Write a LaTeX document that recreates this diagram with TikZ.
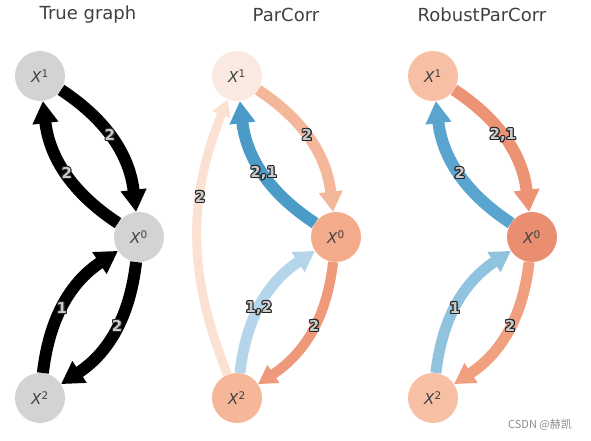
\documentclass[tikz,border=0pt]{standalone}
\usepackage{fontspec}
\setmainfont{DejaVu Sans}
\newfontfamily\cjk{Noto Sans CJK SC}
\usepackage{contour}
\contourlength{1.1pt}
\contournumber{12}
\usetikzlibrary{arrows.meta}

\definecolor{txtgray}{HTML}{404040}
\definecolor{lblfill}{HTML}{CACACA}
\definecolor{nodegray}{HTML}{D3D3D3}
% ParCorr colours
\definecolor{pcone}{HTML}{F9E9E0}
\definecolor{pczero}{HTML}{F4AB8B}
\definecolor{pctwo}{HTML}{F6B698}
% RobustParCorr colours
\definecolor{rpcside}{HTML}{F7C0A4}
\definecolor{rpczero}{HTML}{E98E70}
% edge colours
\definecolor{salmonA}{HTML}{F5B799}
\definecolor{salmonB}{HTML}{EE9A7A}
\definecolor{salmonC}{HTML}{EC9275}
\definecolor{salmonD}{HTML}{F09F7F}
\definecolor{peach}{HTML}{FBE1D2}
\definecolor{blueA}{HTML}{4B9BC9}
\definecolor{blueB}{HTML}{B5D6EA}
\definecolor{blueC}{HTML}{5AA5D0}
\definecolor{blueD}{HTML}{90C4DE}

\newcommand{\elab}[1]{\contour{black!85}{\textcolor{lblfill}{#1}}}
\newcommand{\var}[1]{\textit{X}\textsuperscript{#1}}

\begin{document}
\begin{tikzpicture}[x=1pt, y=1pt,
    var/.style={circle, minimum size=50pt, inner sep=0pt, text=txtgray,
      font=\fontsize{15}{15}\selectfont},
    edge/.style={-{Triangle[length=0pt 1.85, width=0pt 2.05]}, line width=12pt},
    lbl/.style={font=\fontsize{15}{15}\selectfont\bfseries, inner sep=0pt},
    title/.style={text=txtgray, font=\fontsize{18}{18}\selectfont}]
  \useasboundingbox (0,0) rectangle (591,441);

  % Left panel: true graph
  \begin{scope}[xshift=0pt]
    \node[title] (ttitle) at (88,426) {True graph};
    \node[var, fill=nodegray] (t1) at (40,365) {\var{1}};
    \node[var, fill=nodegray] (t0) at (139,204) {\var{0}};
    \node[var, fill=nodegray] (t2) at (40,43) {\var{2}};

    \draw[edge, black] (t1) to[bend left=25] node[lbl, pos=0.45] {\elab{2}} (t0);
    \draw[edge, black] (t0) to[bend left=25] node[lbl, pos=0.48] {\elab{2}} (t1);
    \draw[edge, black] (t2) to[bend left=25] node[lbl, pos=0.45] {\elab{1}} (t0);
    \draw[edge, black] (t0) to[bend left=25] node[lbl, pos=0.45] {\elab{2}} (t2);
  \end{scope}

  % Middle panel: ParCorr
  \begin{scope}[xshift=197pt]
    \node[title] (ptitle) at (89,426) {ParCorr};
    \node[var, fill=pcone] (p1) at (40,365) {\var{1}};
    \node[var, fill=pczero] (p0) at (139,204) {\var{0}};
    \node[var, fill=pctwo] (p2) at (40,43) {\var{2}};

    \draw[edge, peach, line width=9pt] (p2) to[bend left=22] node[lbl, pos=0.65] {\elab{2}} (p1);
    \draw[edge, salmonA, line width=11pt] (p1) to[bend left=25] node[lbl, pos=0.45] {\elab{2}} (p0);
    \draw[edge, blueA] (p0) to[bend left=25] node[lbl, pos=0.48] {\elab{2,1}} (p1);
    \draw[edge, blueB, line width=11pt] (p2) to[bend left=25] node[lbl, pos=0.45] {\elab{1,2}} (p0);
    \draw[edge, salmonB, line width=10pt] (p0) to[bend left=25] node[lbl, pos=0.45] {\elab{2}} (p2);
  \end{scope}

  % Right panel: RobustParCorr
  \begin{scope}[xshift=393pt]
    \node[title] (rtitle) at (89,426) {RobustParCorr};
    \node[var, fill=rpcside] (r1) at (40,365) {\var{1}};
    \node[var, fill=rpczero] (r0) at (139,204) {\var{0}};
    \node[var, fill=rpcside] (r2) at (40,43) {\var{2}};

    \draw[edge, salmonC] (r1) to[bend left=25] node[lbl, pos=0.45] {\elab{2,1}} (r0);
    \draw[edge, blueC] (r0) to[bend left=25] node[lbl, pos=0.48] {\elab{2}} (r1);
    \draw[edge, blueD, line width=11pt] (r2) to[bend left=25] node[lbl, pos=0.45] {\elab{1}} (r0);
    \draw[edge, salmonD, line width=11pt] (r0) to[bend left=25] node[lbl, pos=0.45] {\elab{2}} (r2);
  \end{scope}

  \node[text=black!45, font=\cjk\fontsize{11}{11}\selectfont] (mark) at (540,16) {CSDN @赫凯};
\end{tikzpicture}
\end{document}
